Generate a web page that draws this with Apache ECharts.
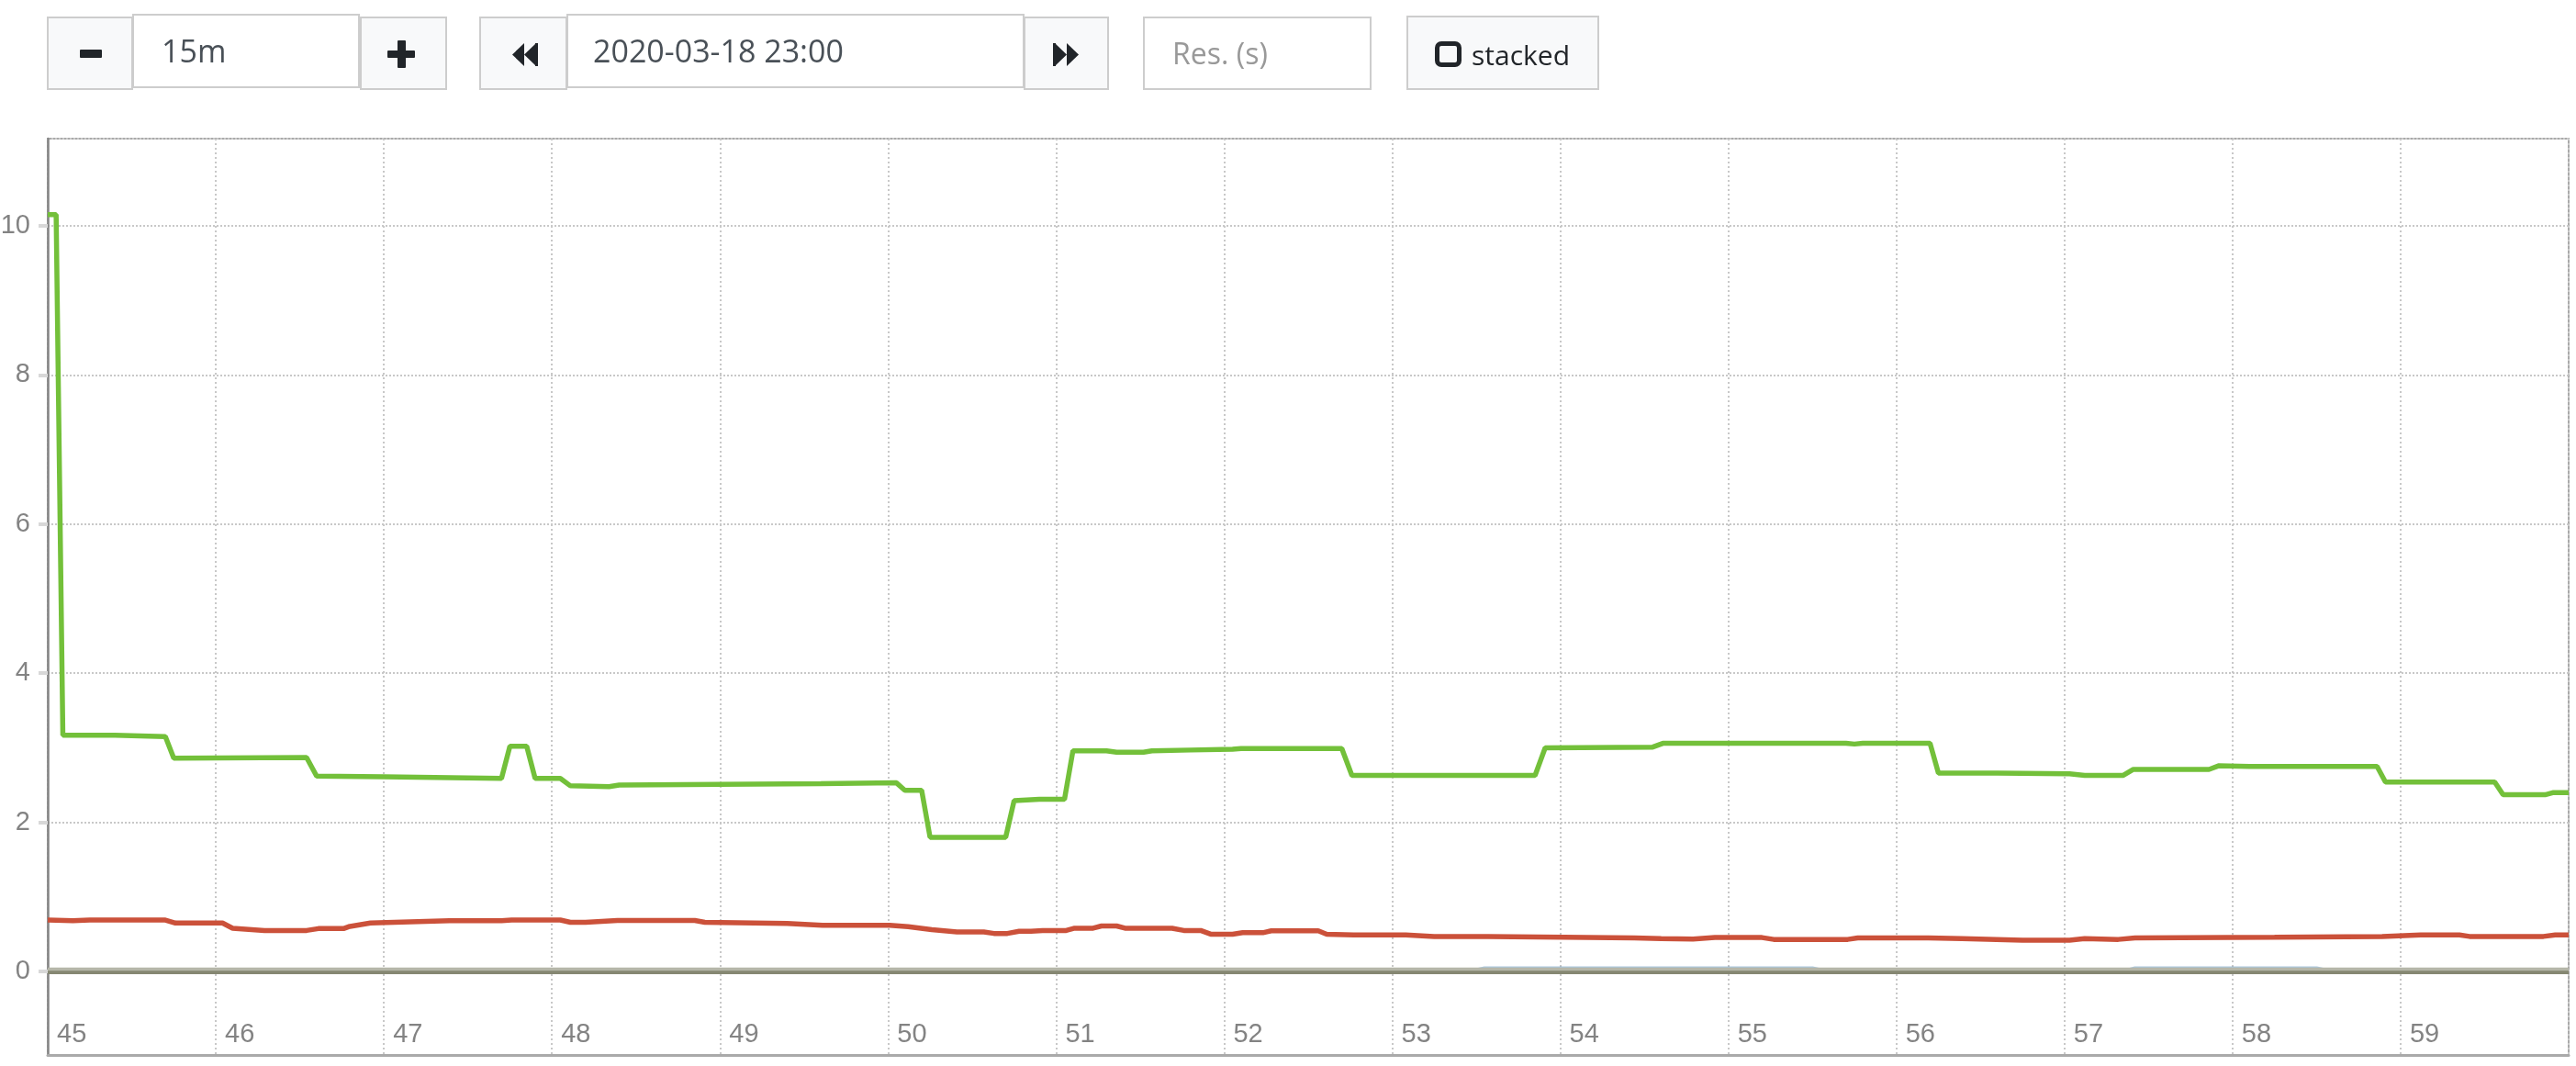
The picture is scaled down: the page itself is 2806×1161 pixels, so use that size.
<!DOCTYPE html>
<html>
<head>
<meta charset="utf-8">
<script src="https://cdn.jsdelivr.net/npm/echarts@6/dist/echarts.min.js"></script>
<style>
html,body{margin:0;padding:0;background:#fff;width:2806px;height:1161px;overflow:hidden;}
#chart{position:absolute;left:0;top:0;width:2806px;height:1161px;}
.box{position:absolute;box-sizing:border-box;border:2px solid #cdcdcd;z-index:2;}
.btn{background:#f8f9fa;}
.inp{background:#fff;}
.txt{position:absolute;white-space:nowrap;line-height:1;font-family:"Open Sans",sans-serif;z-index:3;}
svg.ic{position:absolute;z-index:3;}
</style>
</head>
<body>
<div id="chart"></div>

<div class="box btn" style="left:51px;top:18px;width:94px;height:80px;"></div>
<div style="position:absolute;z-index:3;left:87px;top:54px;width:24px;height:9px;background:#212529;border-radius:1px;"></div>
<div class="box inp" style="left:144px;top:15px;width:248px;height:81px;"></div>
<div class="txt" style="left:176px;top:38px;font-size:34px;color:#495057;">15m</div>
<div class="box btn" style="left:392px;top:18px;width:95px;height:80px;"></div>
<div style="position:absolute;z-index:3;left:422px;top:55px;width:30px;height:8px;background:#212529;border-radius:1px;"></div>
<div style="position:absolute;z-index:3;left:433px;top:44px;width:9px;height:30px;background:#212529;border-radius:1px;"></div>

<div class="box btn" style="left:522px;top:18px;width:96px;height:80px;"></div>
<svg class="ic" style="left:558px;top:47px;" width="28" height="25" viewBox="0 0 28 25"><polygon points="0,12.5 13,0 13,25" fill="#212529"/><polygon points="13,12.5 26,0 26,25" fill="#212529"/><rect x="25" y="0" width="3" height="25" fill="#212529"/></svg>
<div class="box inp" style="left:617px;top:15px;width:499px;height:81px;"></div>
<div class="txt" style="left:646px;top:38px;font-size:34px;color:#495057;">2020-03-18 23:00</div>
<div class="box btn" style="left:1115px;top:18px;width:93px;height:80px;"></div>
<svg class="ic" style="left:1147px;top:47px;" width="28" height="25" viewBox="0 0 28 25"><rect x="0" y="0" width="3" height="25" fill="#212529"/><polygon points="2,0 15,12.5 2,25" fill="#212529"/><polygon points="15,0 28,12.5 15,25" fill="#212529"/></svg>

<div class="box inp" style="left:1245px;top:18px;width:249px;height:80px;"></div>
<div class="txt" style="left:1277px;top:42px;font-size:32px;color:#999;">Res. (s)</div>

<div class="box btn" style="left:1532px;top:17px;width:210px;height:81px;"></div>
<div style="position:absolute;z-index:3;left:1563px;top:45px;width:29px;height:28px;box-sizing:border-box;border:5px solid #212529;border-radius:7px;"></div>
<div class="txt" style="left:1603px;top:45px;font-size:30px;color:#212529;">stacked</div>

<script>
// ---- data (x = minutes past 22:00, y = value) ----
const minuteTicks = [45,46,47,48,49,50,51,52,53,54,55,56,57,58,59];
const valueTicks = [0,2,4,6,8,10];

const redSeries = [[45.00,0.69],[45.15,0.68],[45.25,0.69],[45.70,0.69],[45.76,0.65],[46.04,0.65],[46.10,0.58],[46.29,0.55],[46.54,0.55],[46.61,0.575],[46.76,0.575],[46.79,0.60],[46.92,0.65],[47.39,0.68],[47.70,0.68],[47.76,0.69],[48.05,0.69],[48.11,0.66],[48.20,0.66],[48.39,0.685],[48.85,0.685],[48.91,0.66],[49.40,0.645],[49.61,0.62],[50.01,0.62],[50.12,0.60],[50.26,0.56],[50.41,0.53],[50.57,0.53],[50.63,0.51],[50.71,0.51],[50.78,0.54],[50.85,0.54],[50.92,0.55],[51.06,0.55],[51.11,0.58],[51.22,0.58],[51.27,0.61],[51.36,0.61],[51.41,0.58],[51.69,0.58],[51.76,0.55],[51.86,0.55],[51.92,0.50],[52.05,0.50],[52.11,0.52],[52.23,0.52],[52.28,0.545],[52.56,0.545],[52.61,0.50],[52.77,0.49],[53.08,0.49],[53.25,0.47],[53.57,0.47],[54.02,0.46],[54.44,0.45],[54.60,0.44],[54.79,0.435],[54.92,0.455],[55.20,0.455],[55.27,0.43],[55.71,0.43],[55.77,0.45],[56.19,0.45],[56.39,0.44],[56.75,0.42],[57.03,0.42],[57.12,0.44],[57.32,0.43],[57.42,0.45],[58.25,0.46],[58.89,0.47],[59.12,0.49],[59.35,0.49],[59.41,0.47],[59.85,0.47],[59.92,0.49],[60.00,0.49]];

const greenSeries = [[45.00,10.15],[45.05,10.15],[45.09,3.17],[45.40,3.17],[45.70,3.15],[45.75,2.86],[46.54,2.87],[46.60,2.62],[47.00,2.61],[47.40,2.60],[47.70,2.59],[47.75,3.02],[47.85,3.02],[47.90,2.59],[48.05,2.59],[48.11,2.49],[48.34,2.48],[48.40,2.50],[49.00,2.51],[49.60,2.52],[50.05,2.53],[50.10,2.43],[50.20,2.43],[50.25,1.80],[50.70,1.80],[50.75,2.29],[50.90,2.31],[51.05,2.31],[51.10,2.96],[51.30,2.96],[51.36,2.94],[51.52,2.94],[51.57,2.96],[51.80,2.97],[52.05,2.98],[52.10,2.99],[52.70,2.99],[52.76,2.63],[53.85,2.63],[53.91,3.00],[54.55,3.01],[54.61,3.06],[55.70,3.06],[55.75,3.05],[55.80,3.06],[56.20,3.06],[56.25,2.66],[56.60,2.66],[57.03,2.65],[57.12,2.63],[57.35,2.63],[57.41,2.71],[57.86,2.71],[57.92,2.76],[58.10,2.75],[58.86,2.75],[58.91,2.54],[59.56,2.54],[59.61,2.37],[59.86,2.37],[59.91,2.40],[60.00,2.40]];

const blueSeries = [[45.00,0.02],[53.50,0.02],[53.55,0.045],[55.50,0.045],[55.55,0.02],[57.38,0.02],[57.42,0.045],[58.50,0.045],[58.55,0.02],[60.00,0.02]];
const oliveSeries = [[45.00,-0.005],[60.00,-0.005]];
const graySeries = [[45.00,0.03],[50.00,0.03],[53.00,0.03],[60.00,0.03]];

const seriesColors = {red:'#cb513a', green:'#73c03a', blue:'#4682b4', olive:'#858772', gray:'#b5b6a9'};

const chart = echarts.init(document.getElementById('chart'), null, {renderer:'canvas'});
const labelFont = {fontSize:29, color:'#838383', fontFamily:'"Liberation Sans", Arial, sans-serif'};

function line(name, data, color, width, opacity) {
  return {name, type:'line', data, showSymbol:false, symbol:'none', animation:false,
    lineStyle:{color, width, opacity: opacity == null ? 1 : opacity}, itemStyle:{color}, emphasis:{disabled:true}, silent:true};
}

chart.setOption({
  animation:false,
  grid:{left:52, right:8, top:151, bottom:12, show:true, borderColor:'#aaaaaa', borderWidth:2, outerBoundsMode:'none', containLabel:false},
  xAxis:{
    type:'value', min:45, max:60, interval:1,
    axisLine:{show:true, onZero:false, lineStyle:{color:'#aaaaaa', width:3}},
    axisTick:{show:false},
    axisLabel:Object.assign({inside:true, margin:8, align:'left', verticalAlign:'bottom', padding:[0,0,0,10],
      showMaxLabel:false, showMinLabel:true,
      formatter:v => minuteTicks.includes(v) ? String(v) : ''}, labelFont),
    splitLine:{show:true, lineStyle:{color:'#c8c8c8', width:2, type:[2,3]}}
  },
  yAxis:{
    type:'value', min:-1.12, max:11.17, splitNumber:6,
    axisLine:{show:true, onZero:false, lineStyle:{color:'#858585', width:2.5}},
    axisTick:{show:true, length:10, lineStyle:{color:'#d8d8d8', width:4}},
    axisLabel:Object.assign({margin:19, showMinLabel:false, showMaxLabel:false,
      formatter:v => valueTicks.includes(v) ? String(v) : ''}, labelFont),
    splitLine:{show:true, lineStyle:{color:'#c8c8c8', width:2, type:[2,2]}}
  },
  series:[
    line('red', redSeries, seriesColors.red, 5.5),
    line('green', greenSeries, seriesColors.green, 5.5),
    line('blue', blueSeries, seriesColors.blue, 4, 0.45),
    line('olive', oliveSeries, seriesColors.olive, 5),
    line('gray', graySeries, seriesColors.gray, 3.5)
  ]
});
</script>
</body>
</html>
